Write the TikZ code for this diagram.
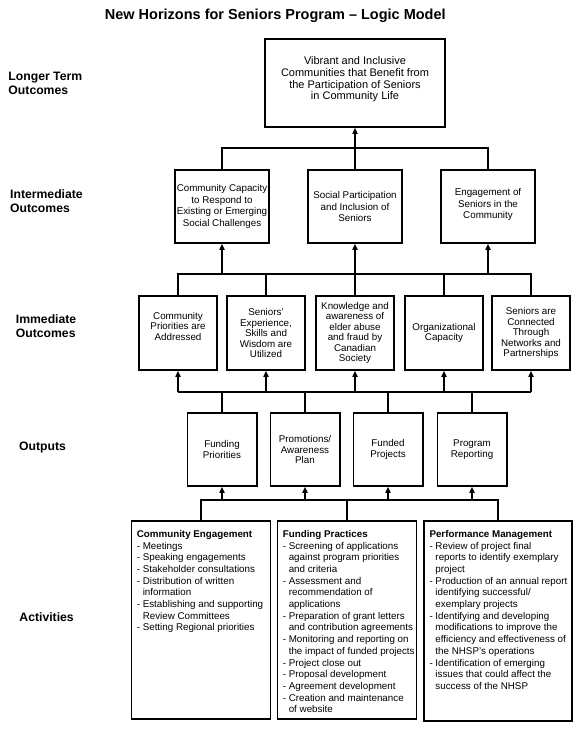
\documentclass[tikz,border=0pt]{standalone}
\usepackage{fontspec}
\setmainfont{Liberation Sans}
\usetikzlibrary{arrows.meta}
\newcommand{\ind}{\hphantom{- }}
\begin{document}
\begin{tikzpicture}[x=1pt,y=-1pt,
  box/.style={draw, line width=1.5pt, inner sep=0pt, align=center, fill=white},
  tbox/.style={box, minimum width=180pt, minimum height=88pt, font=\fontsize{11}{11.7}\selectfont},
  ibox/.style={box, minimum width=94pt, minimum height=73pt, font=\fontsize{9.8}{11.5}\selectfont},
  jbox/.style={box, minimum width=78pt, minimum height=74pt, font=\fontsize{9.8}{10.5}\selectfont},
  obox/.style={box, minimum width=69.5pt, minimum height=73pt, font=\fontsize{9.8}{10.5}\selectfont},
  abox/.style={draw, line width=1.5pt, inner sep=0pt, outer sep=0pt, anchor=north west, minimum height=198pt},
  atext/.style={inner sep=0pt, anchor=north west, align=left, font=\fontsize{9.8}{11.7}\selectfont},
  lab/.style={inner sep=0pt, anchor=north west, align=left, font=\bfseries\fontsize{12.2}{14}\selectfont},
  conn/.style={line width=1.5pt},
  arr/.style={conn, -{Triangle[length=6pt,width=5pt]}}
]
\useasboundingbox[fill=white] (0,0) rectangle (580,756);

% title
\node[inner sep=0pt, anchor=base, font=\bfseries\fontsize{14.5}{16}\selectfont] (title) at (275.3,19.5)
  {New Horizons for Seniors Program -- Logic Model};

% row labels
\node[lab] (L1) at (8.3,72) {Longer Term\\Outcomes};
\node[lab] (L2) at (10,189) {Intermediate\\Outcomes};
\node[lab] (L3) at (15.7,314) {Immediate\\Outcomes};
\node[lab] (L4) at (19,442) {Outputs};
\node[lab] (L5) at (19.3,612) {Activities};

% longer term
\node[tbox] (T) at (355,83) {Vibrant and Inclusive\\Communities that Benefit from\\the Participation of Seniors\\in Community Life\\[-2.4pt]};

% intermediate
\node[ibox] (I1) at (222,206.5) {Community Capacity\\to Respond to\\Existing or Emerging\\Social Challenges};
\node[ibox] (I2) at (355,206.5) {Social Participation\\and Inclusion of\\Seniors};
\node[ibox] (I3) at (488,206.5) {Engagement of\\Seniors in the\\Community\\[-5.4pt]};

% immediate
\node[jbox] (J1) at (178,333) {Community\\Priorities are\\Addressed\\[3.5pt]};
\node[jbox] (J2) at (266,333) {Seniors'\\Experience,\\Skills and\\Wisdom are\\Utilized};
\node[jbox] (J3) at (355,333) {Knowledge and\\awareness of\\elder abuse\\and fraud by\\Canadian\\Society};
\node[jbox] (J4) at (444,333) {Organizational\\Capacity};
\node[jbox] (J5) at (531,333) {Seniors are\\Connected\\Through\\Networks and\\Partnerships};

% outputs
\node[obox] (O1) at (222,449.5) {Funding\\Priorities};
\node[obox] (O2) at (305,449.5) {Promotions/\\Awareness\\Plan};
\node[obox] (O3) at (388,449.5) {Funded\\Projects};
\node[obox] (O4) at (472,449.5) {Program\\Reporting};

% activities
\node[abox, minimum width=139pt] (CE) at (131.5,521) {};
\node[abox, minimum width=139pt] (FP) at (277.5,521) {};
\node[abox, minimum width=148pt, minimum height=200pt, line width=1.9pt] (PM) at (424,521) {};

\node[atext] (CEt) at ([shift={(5.1,9)}]CE.north west) {\textbf{Community Engagement}\\
- Meetings\\
- Speaking engagements\\
- Stakeholder consultations\\
- Distribution of written\\
\ind information\\
- Establishing and supporting\\
\ind Review Committees\\
- Setting Regional priorities};

\node[atext] (FPt) at ([shift={(5.1,9)}]FP.north west) {\textbf{Funding Practices}\\
- Screening of applications\\
\ind against program priorities\\
\ind and criteria\\
- Assessment and\\
\ind recommendation of\\
\ind applications\\
- Preparation of grant letters\\
\ind and contribution agreements\\
- Monitoring and reporting on\\
\ind the impact of funded projects\\
- Project close out\\
- Proposal development\\
- Agreement development\\
- Creation and maintenance\\
\ind of website};

\node[atext] (PMt) at ([shift={(5.3,9)}]PM.north west) {\textbf{Performance Management}\\
- Review of project final\\
\ind reports to identify exemplary\\
\ind project\\
- Production of an annual report\\
\ind identifying successful/\\
\ind exemplary projects\\
- Identifying and developing\\
\ind modifications to improve the\\
\ind efficiency and effectiveness of\\
\ind the NHSP’s operations\\
- Identification of emerging\\
\ind issues that could affect the\\
\ind success of the NHSP};

% bus coordinates
\coordinate (b1) at (355,148);
\coordinate (b2) at (355,274);
\coordinate (b3) at (355,392);
\coordinate (b4) at (355,500);

% intermediate -> longer term
\draw[conn] (I1.north) |- (b1) -| (I3.north);
\draw[arr] (I2.north) -- (T.south);

% immediate -> intermediate
\draw[conn] (J1.north) |- (b2) -| (J5.north);
\draw[conn] (J2.north) -- (J2.north |- b2);
\draw[conn] (J4.north) -- (J4.north |- b2);
\draw[arr] (J3.north) -- (I2.south);
\draw[arr] (I1.south |- b2) -- (I1.south);
\draw[arr] (I3.south |- b2) -- (I3.south);

% outputs -> immediate
\draw[conn] (J1.south |- b3) -- (J5.south |- b3);
\foreach \j in {J1,J2,J3,J4,J5} \draw[arr] (\j.south |- b3) -- (\j.south);
\foreach \o in {O1,O2,O3,O4} \draw[conn] (\o.north) -- (\o.north |- b3);

% activities -> outputs
\draw[conn] (CE.north) |- (b4) -| (PM.north);
\draw[conn] (FP.north) -- (FP.north |- b4);
\foreach \o in {O1,O2,O3,O4} \draw[arr] (\o.south |- b4) -- (\o.south);
\end{tikzpicture}
\end{document}
